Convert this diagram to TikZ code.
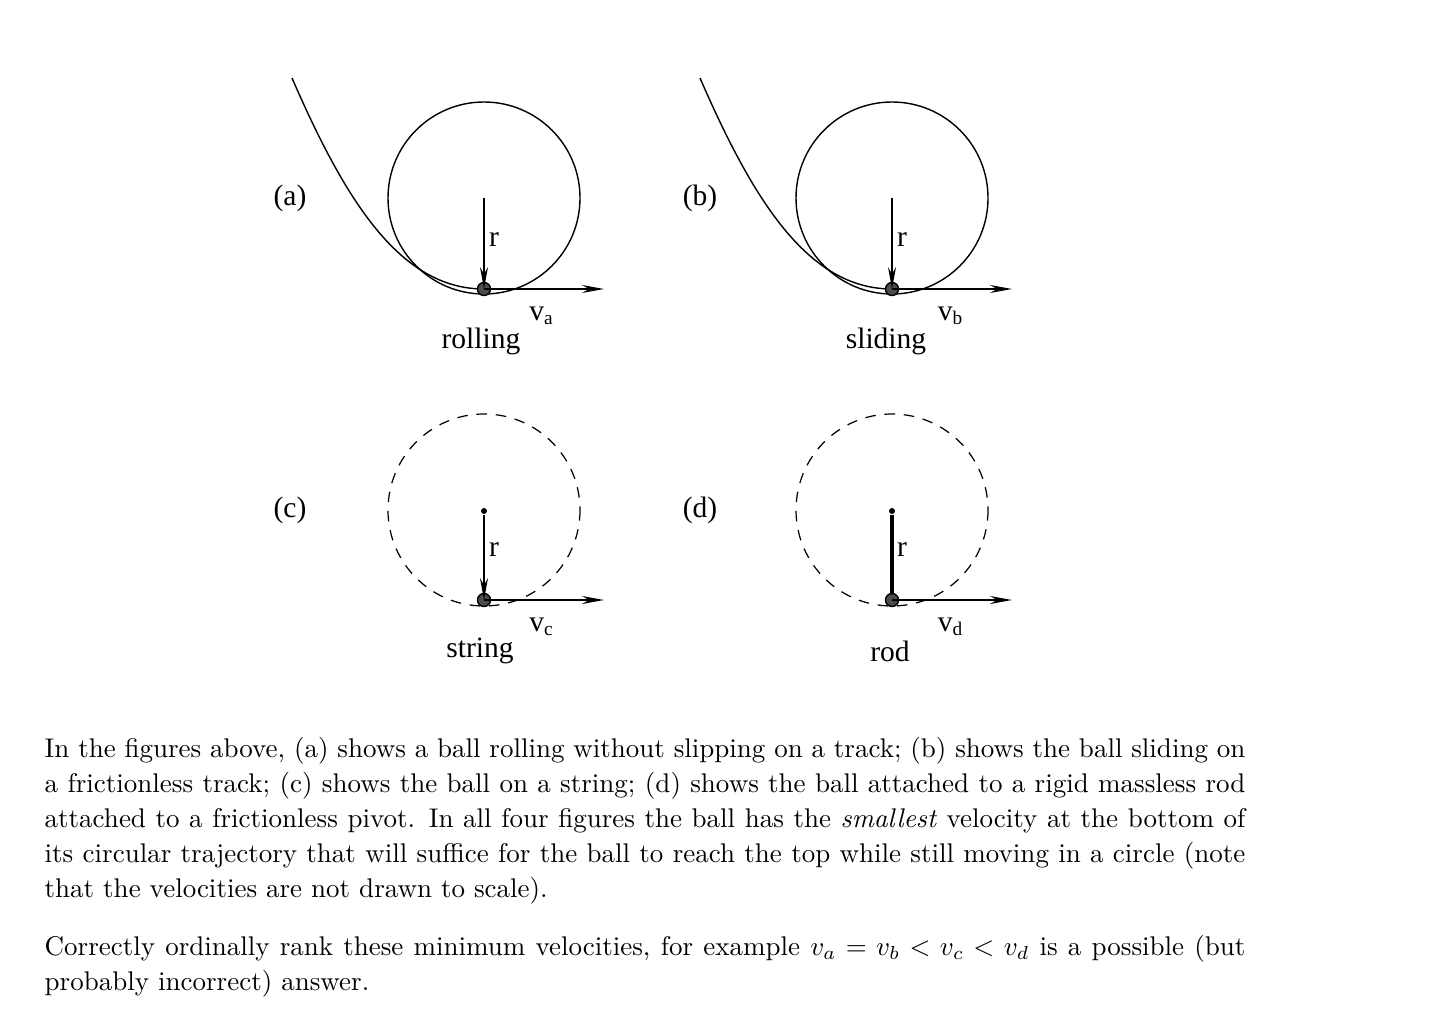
\documentclass[tikz,border=0pt]{standalone}
\usepackage{fontspec}
\newfontfamily\tms{Liberation Serif}
\usetikzlibrary{arrows.meta}
\begin{document}
\begin{tikzpicture}[x=0.01cm,y=-0.01cm,
  lbl/.style={font=\tms\fontsize{8.4}{10}\selectfont},
  ball/.style={circle,fill=black!70,draw=black,inner sep=0pt,minimum size=0.13cm},
  vec/.style={-{Stealth[length=0.22cm,width=0.08cm]},line width=0.4pt},
  dcirc/.style={dashed,dash pattern=on 3pt off 2.5pt,line width=0.35pt}]
\useasboundingbox (0,0) rectangle (1440,1018);
% (a)
\draw[line width=0.4pt] (484,198) circle (96);
\draw[line width=0.4pt] (292,78) .. controls (345,200) and (400,289) .. (484,289);
\node[ball] (ba) at (484,289) {};
\coordinate (ca) at (484,198);
\coordinate (ea) at (604,289);
\draw[vec] (ca) -- (ba.center);
\draw[vec] (ba.center) -- (ea);
\node[lbl] (la) at (290,198) {(a)};
\node[lbl] (ra) at (494,240) {r};
\node[lbl] (va) at (541,316) {v{\fontsize{5.5}{6}\selectfont\raisebox{-0.4ex}{a}}};
\node[lbl] (ta) at (481,341) {rolling};
% (b)
\draw[line width=0.4pt] (892,198) circle (96);
\draw[line width=0.4pt] (700,78) .. controls (753,200) and (808,289) .. (892,289);
\node[ball] (bb) at (892,289) {};
\coordinate (cb) at (892,198);
\coordinate (eb) at (1012,289);
\draw[vec] (cb) -- (bb.center);
\draw[vec] (bb.center) -- (eb);
\node[lbl] (lb) at (700,198) {(b)};
\node[lbl] (rb) at (902,240) {r};
\node[lbl] (vb) at (950,316) {v{\fontsize{5.5}{6}\selectfont\raisebox{-0.4ex}{b}}};
\node[lbl] (tb) at (886,341) {sliding};
% (c)
\draw[dcirc] (484,510) circle (96);
\node[ball] (bc) at (484,600) {};
\node[circle,fill,inner sep=0pt,minimum size=0.06cm] (cc) at (484,511) {};
\coordinate (ec) at (604,600);
\draw[vec] (cc) -- (bc.center);
\draw[vec] (bc.center) -- (ec);
\node[lbl] (lc) at (290,510) {(c)};
\node[lbl] (rc) at (494,550) {r};
\node[lbl] (vc) at (541,627) {v{\fontsize{5.5}{6}\selectfont\raisebox{-0.4ex}{c}}};
\node[lbl] (tc) at (480,651) {string};
% (d)
\draw[dcirc] (892,510) circle (96);
\node[ball] (bd) at (892,600) {};
\node[circle,fill,inner sep=0pt,minimum size=0.06cm] (cd) at (892,511) {};
\coordinate (ed) at (1012,600);
\draw[line width=1.2pt] (cd) -- (bd);
\draw[vec] (bd.center) -- (ed);
\node[lbl] (ld) at (700,510) {(d)};
\node[lbl] (rd) at (902,550) {r};
\node[lbl] (vd) at (950,627) {v{\fontsize{5.5}{6}\selectfont\raisebox{-0.4ex}{d}}};
\node[lbl] (td) at (890,651) {rod};
% text
\node[anchor=north west,inner sep=0pt] (txt) at (44,737) {\scalebox{0.768}{\parbox[t]{15.625cm}{%
\fontsize{10}{12.96}\selectfont\setlength{\parskip}{0.29cm}\setlength{\parindent}{0pt}%
In the figures above, (a) shows a ball rolling without slipping on a track; (b) shows the ball sliding on a frictionless track; (c) shows the ball on a string; (d) shows the ball attached to a rigid massless rod attached to a frictionless pivot. In all four figures the ball has the \emph{smallest} velocity at the bottom of its circular trajectory that will suffice for the ball to reach the top while still moving in a circle (note that the velocities are not drawn to scale).\par
Correctly ordinally rank these minimum velocities, for example $v_a = v_b < v_c < v_d$ is a possible (but probably incorrect) answer.}}};
\end{tikzpicture}
\end{document}
